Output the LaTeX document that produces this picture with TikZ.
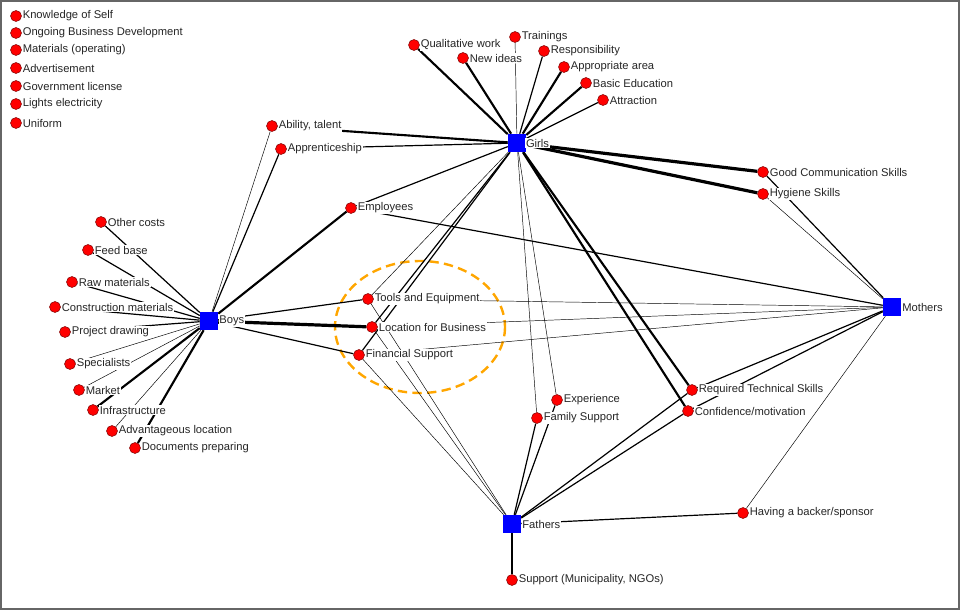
\documentclass[tikz,border=0pt]{standalone}
\usepackage{fontspec}
\setmainfont{Liberation Sans}
\usetikzlibrary{backgrounds}
\begin{document}
\begin{tikzpicture}[x=0.75pt,y=-0.75pt,
  it/.style={circle,fill=red,draw=red!50!black,line width=0.4pt,minimum size=8.2pt,inner sep=0pt},
  ac/.style={rectangle,fill=blue,minimum size=13.5pt,inner sep=0pt},
  lab/.style={font=\fontsize{8.4}{9}\selectfont,fill=white,inner sep=0.6pt,text=black!85},
  t0/.style={line width=0.35pt},
  t1/.style={line width=0.9pt},
  t2/.style={line width=1.6pt},
  t3/.style={line width=2.4pt}]
\useasboundingbox (0,0) rectangle (960,610);
% left list
\foreach \n/\y/\t in {k1/16/Knowledge of Self,k2/33/Ongoing Business Development,k3/50/Materials (operating),k4/68/Advertisement,k5/86/Government license,k6/104/Lights electricity,k7/123/Uniform}
  \node[it,label={[lab]right:\t}] (\n) at (16,\y) {};
% actors
\node[ac,label={[lab,xshift=-1pt]right:Girls}] (G) at (517,143) {};
\node[ac,label={[lab]right:Boys}] (B) at (209,321) {};
\node[ac,label={[lab]right:Mothers}] (M) at (892,307) {};
\node[ac,label={[lab]right:Fathers}] (F) at (512,524) {};
% items
\foreach \n/\x/\y/\t in {
 qw/414/45/Qualitative work, tr/515/37/Trainings, re/544/51/Responsibility, ni/463/58/New ideas,
 aa/564/67/Appropriate area, be/586/83/Basic Education, at/603/100/Attraction,
 ab/272/126/{Ability, talent}, ap/281/149/Apprenticeship, em/351/208/Employees,
 gc/763/172/Good Communication Skills, hy/763/194/Hygiene Skills,
 oc/101/222/Other costs, fb/88/250/Feed base, rm/72/282/Raw materials, cm/55/307/Construction materials,
 pd/65/332/Project drawing, sp/70/364/Specialists, mk/79/390/Market, in/93/410/Infrastructure,
 al/112/431/Advantageous location, dp/135/448/Documents preparing,
 te/368/299/Tools and Equipment, lb/372/327/Location for Business, fs/359/355/Financial Support,
 ex/557/400/Experience, fam/537/418/Family Support, rt/692/390/Required Technical Skills,
 co/688/411/{Confidence/motivation}, hb/743/513/{Having a backer/sponsor}, su/512/580/{Support (Municipality, NGOs)}}
  \node[it,label={[lab]right:\t}] (\n) at (\x,\y) {};
\begin{scope}[on background layer]
\draw[line width=0.8pt,black!60] (1,1) rectangle (959,609);
\draw[dashed,draw=orange!70!yellow,line width=1.8pt,dash pattern=on 7pt off 4pt] (420,327) ellipse [x radius=85, y radius=66];
% Girls
\draw[t2] (G)--(qw); \draw[t2] (G)--(ni); \draw[t0] (G)--(tr); \draw[t1] (G)--(re);
\draw[t2] (G)--(aa); \draw[t2] (G)--(be); \draw[t1] (G)--(at);
\draw[t2] (G)--(ab); \draw[t1] (G)--(ap); \draw[t1] (G)--(em);
\draw[t3] (G)--(gc); \draw[t3] (G)--(hy);
\draw[t0] (G)--(te); \draw[t1] (G)--(lb); \draw[t1] (G)--(fs);
\draw[t0] (G)--(fam); \draw[t0] (G)--(ex);
\draw[t2] (G)--(rt); \draw[t2] (G)--(co);
% Boys
\draw[t0] (B)--(ab); \draw[t1] (B)--(ap); \draw[t2] (B)--(em);
\draw[t1] (B)--(te); \draw[t3] (B)--(lb); \draw[t1] (B)--(fs);
\draw[t1] (B)--(oc); \draw[t1] (B)--(fb); \draw[t1] (B)--(rm); \draw[t1] (B)--(cm);
\draw[t1] (B)--(pd); \draw[t0] (B)--(sp); \draw[t0] (B)--(mk); \draw[t2] (B)--(in);
\draw[t0] (B)--(al); \draw[t2] (B)--(dp);
% Fathers
\draw[t0] (F)--(te); \draw[t0] (F)--(lb); \draw[t0] (F)--(fs);
\draw[t1] (F)--(fam); \draw[t1] (F)--(ex); \draw[t1] (F)--(rt); \draw[t1] (F)--(co);
\draw[t1] (F)--(hb); \draw[t2] (F)--(su);
% Mothers
\draw[t0] (M)--(hy); \draw[t1] (M)--(gc); \draw[t1] (M)--(em);
\draw[t0] (M)--(te); \draw[t0] (M)--(lb); \draw[t0] (M)--(fs);
\draw[t1] (M)--(rt); \draw[t1] (M)--(co); \draw[t0] (M)--(hb);
\end{scope}
\end{tikzpicture}
\end{document}
